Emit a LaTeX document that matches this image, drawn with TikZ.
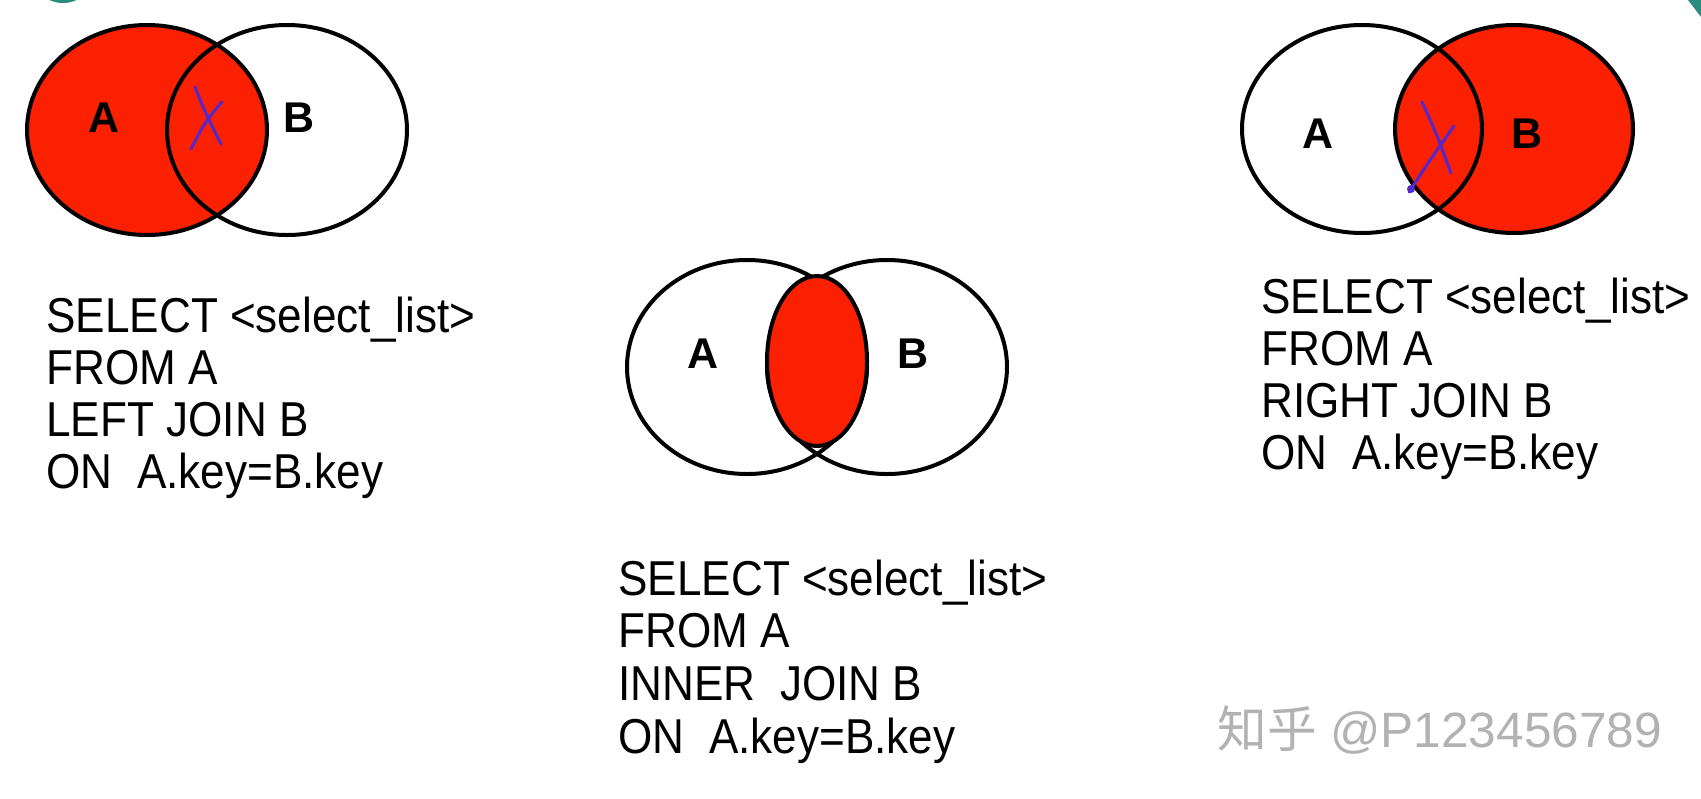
\documentclass[tikz,border=0pt]{standalone}
\usepackage{fontspec}
\setmainfont{Liberation Sans}
\newfontfamily\sqlfont[FakeStretch=0.9]{Liberation Sans}
\newfontfamily\cjk{Noto Sans CJK SC}

\definecolor{joinred}{RGB}{250,32,0}
\definecolor{penblue}{RGB}{85,40,205}
\definecolor{slideteal}{RGB}{40,140,125}

\tikzset{
    venn/.style = {draw = black, line width = 2pt},
    sql/.style = {anchor = base west, inner sep = 0pt, font = \sqlfont\fontsize{24.5}{26}\selectfont},
    lbl/.style = {inner sep = 0pt, font = \bfseries\fontsize{21.5}{22}\selectfont},
    pen/.style = {draw = penblue, line width = 1.5pt, line cap = round}
}

\begin{document}
\begin{tikzpicture}[x = 0.5pt, y = -0.5pt]

            \fill[white] (0, 0) rectangle (1701, 798);
            \useasboundingbox (0, 0) rectangle (1701, 798);

            % slide corners
            \fill[slideteal] (63, -20) ellipse [x radius = 28, y radius = 23];
            \fill[slideteal] (1688, 0) -- (1701, 0) -- (1701, 17) -- cycle;

            \coordinate (la) at (147, 130);
            \coordinate (lb) at (287, 130);
            \coordinate (ma) at (747, 367);
            \coordinate (mb) at (887, 367);
            \coordinate (mab) at (817, 361);
            \coordinate (ra) at (1362, 129);
            \coordinate (rb) at (1514, 129);

            % left join
            \fill[joinred] (la) ellipse [x radius = 120, y radius = 105];
            \draw[venn] (la) ellipse [x radius = 120, y radius = 105];
            \draw[venn] (lb) ellipse [x radius = 120, y radius = 105];
            \draw[pen] (195, 87) .. controls (205, 112) .. (221, 144);
            \draw[pen] (222, 102) .. controls (205, 122) .. (191, 149);
            \node (lA) at (104, 118) [lbl] {A};
            \node (lB) at (299, 118) [lbl] {B};

            % inner join
            \draw[venn] (ma) ellipse [x radius = 120, y radius = 107];
            \draw[venn] (mb) ellipse [x radius = 120, y radius = 107];
            \draw[venn, fill = joinred] (mab) ellipse [x radius = 50, y radius = 85];
            \node (mA) at (703, 354) [lbl] {A};
            \node (mB) at (913, 354) [lbl] {B};

            % right join
            \fill[joinred] (rb) ellipse [x radius = 119, y radius = 104];
            \draw[venn] (ra) ellipse [x radius = 120, y radius = 104];
            \draw[venn] (rb) ellipse [x radius = 119, y radius = 104];
            \draw[pen] (1422, 102) .. controls (1437, 135) .. (1451, 173);
            \draw[pen] (1454, 126) .. controls (1430, 160) .. (1409, 192);
            \fill[penblue] (1411, 189) circle [radius = 4];
            \node (rA) at (1318, 134) [lbl] {A};
            \node (rB) at (1527, 134) [lbl] {B};

            % queries
            \node (l1) at (46, 332) [sql] {SELECT <select\_list>};
            \node (l2) at (46, 384) [sql] {FROM A};
            \node (l3) at (46, 436) [sql] {LEFT JOIN B};
            \node (l4) at (46, 488) [sql] {ON~~A.key=B.key};

            \node (m1) at (618, 595) [sql] {SELECT <select\_list>};
            \node (m2) at (618, 647) [sql] {FROM A};
            \node (m3) at (618, 700) [sql] {INNER~~JOIN B};
            \node (m4) at (618, 753) [sql] {ON~~A.key=B.key};

            \node (r1) at (1261, 313) [sql] {SELECT <select\_list>};
            \node (r2) at (1261, 365) [sql] {FROM A};
            \node (r3) at (1261, 417) [sql] {RIGHT JOIN B};
            \node (r4) at (1261, 469) [sql] {ON~~A.key=B.key};

            \node (wm) at (1217, 747) [anchor = base west, inner sep = 0pt, text = black!30,
                font = \fontsize{24.8}{25}\selectfont] {{\cjk 知乎} @P123456789};
        \end{tikzpicture}
\end{document}
